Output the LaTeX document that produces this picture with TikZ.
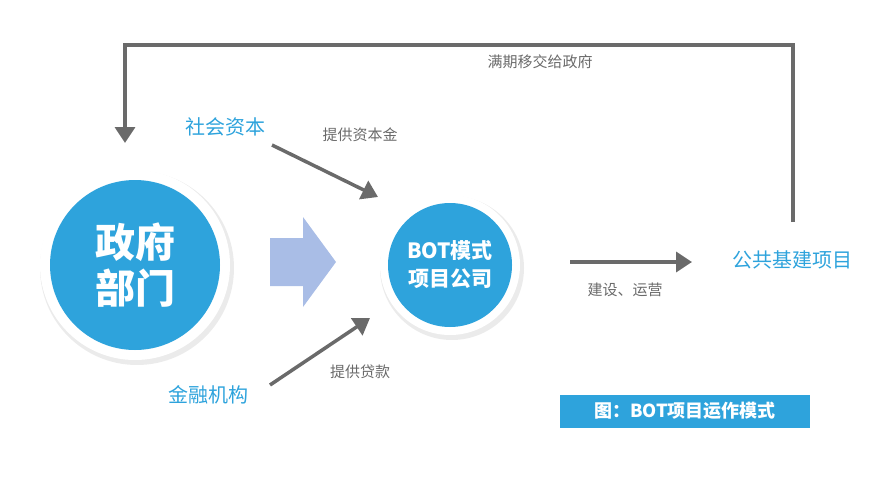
\documentclass[tikz,border=0pt]{standalone}
\usepackage{fontspec}
\setmainfont{Noto Sans CJK SC}
\usetikzlibrary{arrows.meta}
\definecolor{cblue}{HTML}{2EA3DC}
\definecolor{cgray}{HTML}{6A6A6A}
\definecolor{lblue}{HTML}{A9BDE6}
\tikzset{
 conn/.style={cgray,line width=3.5pt,-{Stealth[length=16pt,width=20pt,inset=0pt]}},
 lbl/.style={font=\fontsize{20}{20}\selectfont,text=cblue},
 small/.style={font=\fontsize{15}{15}\selectfont,text=cgray},
}
\begin{document}
\begin{tikzpicture}[x=1pt,y=-1pt]
\useasboundingbox (0,0) rectangle (882,484);
\fill[black!8] (137,268) circle (97);
\fill[black!8] (452,268) circle (72);
\node[circle,fill=white,minimum size=190pt,inner sep=0] (gw) at (135,265) {};
\node[circle,fill=cblue,minimum size=170pt,inner sep=0,text=white,align=center,font=\fontsize{40}{46}\selectfont\bfseries] (gov) at (135,265) {政府\\部门};
\node[circle,fill=white,minimum size=140pt,inner sep=0] (bw) at (450,265) {};
\node[circle,fill=cblue,minimum size=124pt,inner sep=0,text=white,align=center,font=\fontsize{21}{28}\selectfont\bfseries] (bot) at (450,265) {BOT模式\\项目公司};
\fill[lblue] (270,238) -- (303,238) -- (303,217) -- (336,262) -- (303,307) -- (303,286) -- (270,286) -- cycle;
\node[lbl] (sh) at (225,127) {社会资本};
\node[lbl] (jr) at (208,395) {金融机构};
\node[lbl] (gg) at (792,260) {公共基建项目};
\node[small] at (360,135) {提供资本金};
\node[small] at (360,372) {提供贷款};
\node[small] at (625,290) {建设、运营};
\node[small] at (540,62) {满期移交给政府};
\coordinate (s1) at (272,145); \coordinate (s2) at (378,197);
\coordinate (j1) at (270,385); \coordinate (j2) at (370,318);
\coordinate (b1) at (570,262); \coordinate (b2) at (692,262);
\draw[conn] (s1) -- (s2);
\draw[conn] (j1) -- (j2);
\draw[conn] (b1) -- (b2);
\draw[conn] (793,222) -- (793,45) -- (125,45) -- (125,143);
\node[fill=cblue,text=white,font=\fontsize{18}{18}\selectfont\bfseries,minimum width=250pt,minimum height=33pt,inner sep=0] (cap) at (685,411) {图：BOT项目运作模式};
\end{tikzpicture}
\end{document}
